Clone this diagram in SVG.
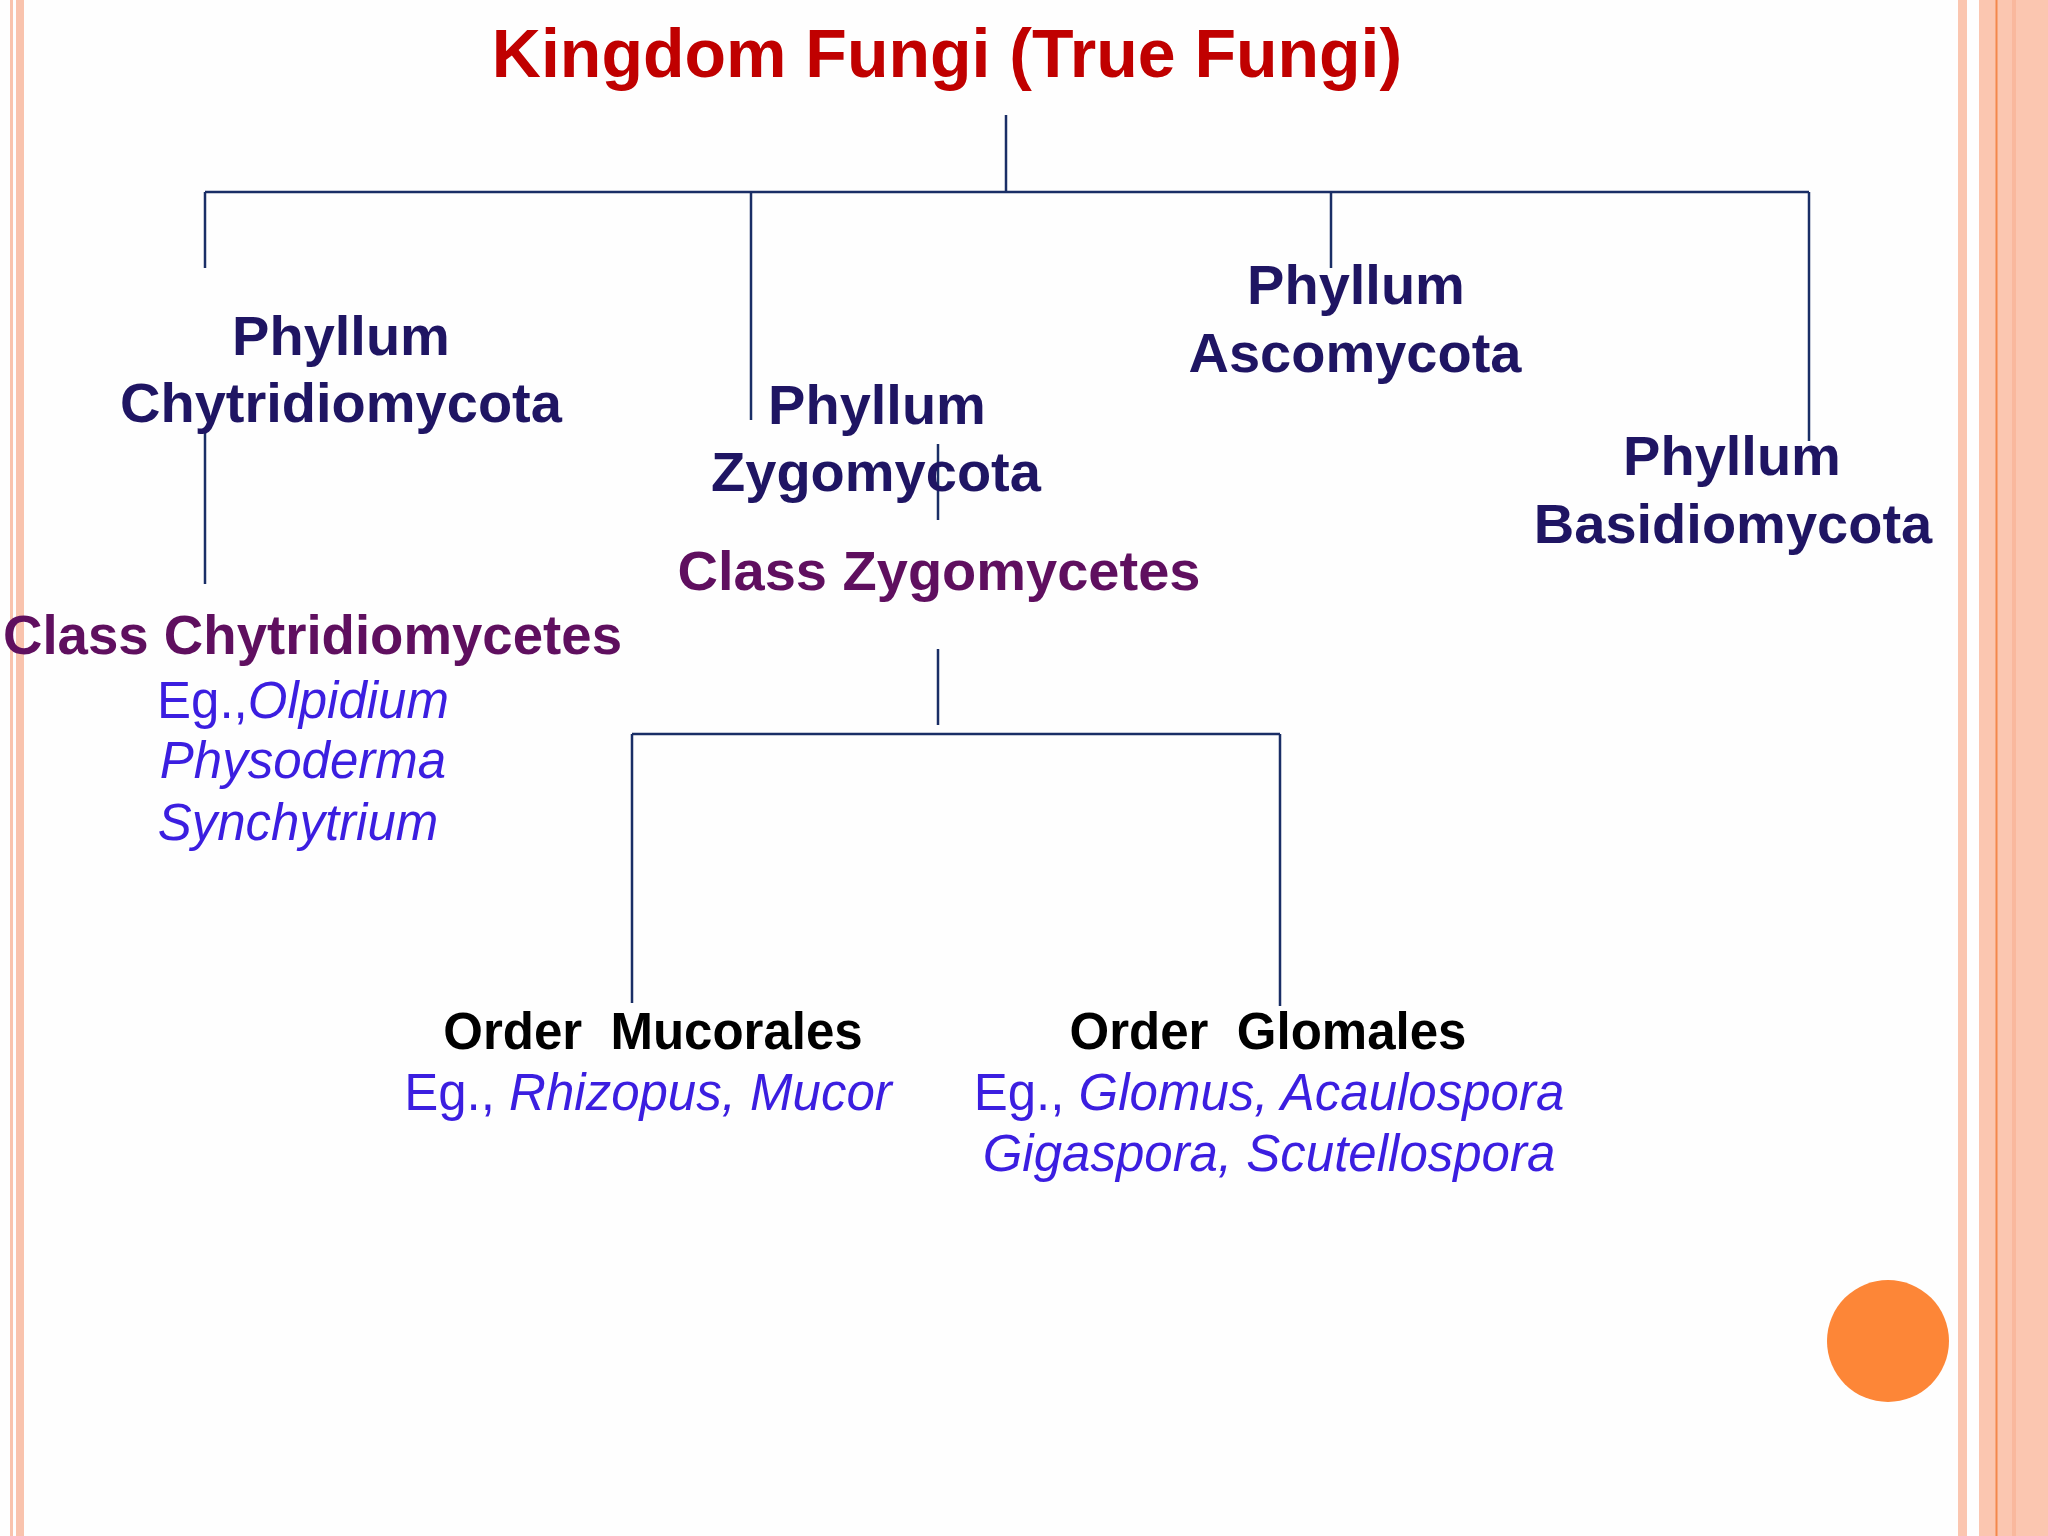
<svg xmlns="http://www.w3.org/2000/svg" width="2048" height="1536" viewBox="0 0 2048 1536">
<style>
.phy{font-family:"Liberation Sans",Arial,sans-serif;font-weight:bold;font-size:56px;fill:#1F1563;text-anchor:middle}
.cls{font-family:"Liberation Sans",Arial,sans-serif;font-weight:bold;font-size:56px;fill:#5F0F5F;text-anchor:middle}
.ord{font-family:"Liberation Sans",Arial,sans-serif;font-weight:bold;font-size:51px;fill:#000;text-anchor:middle;white-space:pre}
.eg{font-family:"Liberation Sans",Arial,sans-serif;font-size:51px;fill:#3B1EE0;text-anchor:middle}
.it{font-style:italic}
.conn line{stroke:#1A2E66;stroke-width:2.5}
</style>
<rect width="2048" height="1536" fill="#FEFEFE"/>
<g id="border">
<rect x="10" y="0" width="3" height="1536" fill="#F9C3AD"/>
<rect x="16" y="0" width="8" height="1536" fill="#F9C3AD"/>
<rect x="1958" y="0" width="9" height="1536" fill="#FBC6B0"/>
<rect x="1979" y="0" width="69" height="1536" fill="#FBC6B0"/>
<rect x="1995.5" y="0" width="2" height="1536" fill="#F4874B"/>
<rect x="2012" y="0" width="4" height="1536" fill="#F9B89D"/>
<circle cx="1888" cy="1341" r="61" fill="#FD8637"/>
</g>
<g class="conn" id="connectors">
<line x1="1006" y1="115" x2="1006" y2="192"/>
<line x1="205" y1="192" x2="1809" y2="192"/>
<line x1="205" y1="192" x2="205" y2="268"/>
<line x1="751" y1="192" x2="751" y2="420"/>
<line x1="1331" y1="192" x2="1331" y2="268"/>
<line x1="1809" y1="192" x2="1809" y2="441"/>
<line x1="205" y1="433" x2="205" y2="584"/>
<line x1="938" y1="444" x2="938" y2="520"/>
<line x1="938" y1="649" x2="938" y2="725"/>
<line x1="632" y1="734" x2="1280" y2="734"/>
<line x1="632" y1="734" x2="632" y2="1003"/>
<line x1="1280" y1="734" x2="1280" y2="1006"/>
</g>
<g id="title">
<text x="947" y="77" font-family="Liberation Sans,Arial,sans-serif" font-weight="bold" font-size="68" fill="#C00000" text-anchor="middle">Kingdom Fungi (True Fungi)</text>
</g>
<g id="chytridiomycota">
<text class="phy" x="341" y="355">Phyllum</text>
<text class="phy" x="341" y="422">Chytridiomycota</text>
</g>
<g id="zygomycota">
<text class="phy" x="877" y="424">Phyllum</text>
<text class="phy" x="876" y="491">Zygomycota</text>
</g>
<g id="ascomycota">
<text class="phy" x="1356" y="304">Phyllum</text>
<text class="phy" x="1355" y="372">Ascomycota</text>
</g>
<g id="basidiomycota">
<text class="phy" x="1732" y="475">Phyllum</text>
<text class="phy" x="1733" y="543">Basidiomycota</text>
</g>
<g id="chytridiomycetes">
<text class="cls" x="3" y="654" style="text-anchor:start" textLength="619" lengthAdjust="spacingAndGlyphs">Class Chytridiomycetes</text>
<text class="eg" x="303" y="718">Eg.,<tspan class="it">Olpidium</tspan></text>
<text class="eg it" x="303" y="778">Physoderma</text>
<text class="eg it" x="298" y="840">Synchytrium</text>
</g>
<g id="zygomycetes">
<text class="cls" x="939" y="590">Class Zygomycetes</text>
</g>
<g id="mucorales">
<text class="ord" x="653" y="1049" xml:space="preserve">Order  Mucorales</text>
<text class="eg" x="648" y="1110">Eg., <tspan class="it">Rhizopus, Mucor</tspan></text>
</g>
<g id="glomales">
<text class="ord" x="1268" y="1049" xml:space="preserve">Order  Glomales</text>
<text class="eg" x="1269" y="1110">Eg., <tspan class="it">Glomus, Acaulospora</tspan></text>
<text class="eg it" x="1269" y="1171">Gigaspora, Scutellospora</text>
</g>
</svg>
